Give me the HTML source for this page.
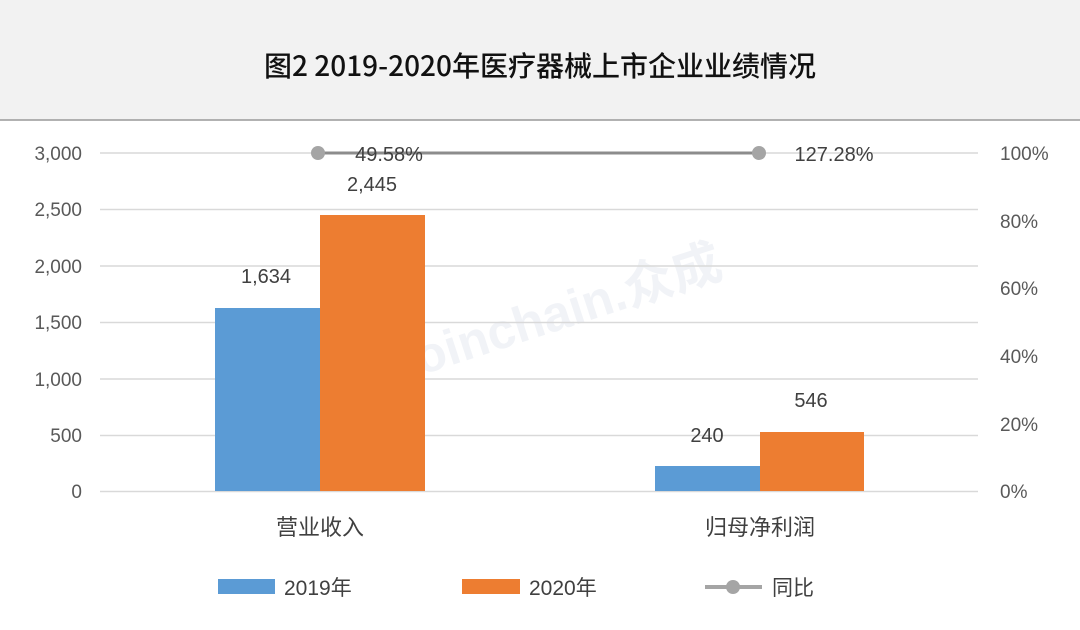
<!DOCTYPE html>
<html><head><meta charset="utf-8"><style>
body{margin:0;width:1080px;height:625px;background:#fff;overflow:hidden;font-family:"Liberation Sans","Noto Sans CJK SC",sans-serif}
</style></head><body>
<svg width="1080" height="625" xmlns="http://www.w3.org/2000/svg" font-family="Liberation Sans, Noto Sans CJK SC, sans-serif">
<rect x="0" y="0" width="1080" height="120" fill="#f2f2f2"/>
<line x1="0" y1="120" x2="1080" y2="120" stroke="#999" stroke-width="1.5"/>
<text x="540" y="76" text-anchor="middle" font-size="28" fill="#111" font-family="Noto Sans CJK SC, sans-serif" font-weight="500">图2 2019-2020年医疗器械上市企业业绩情况</text>
<text x="560" y="330" text-anchor="middle" font-size="50" font-weight="bold" fill="#f1f3f7" transform="rotate(-18 560 330)">Joinchain.众成</text>
<g stroke="#d9d9d9" stroke-width="1.5">
<line x1="100" y1="153" x2="978" y2="153"/><line x1="100" y1="209.5" x2="978" y2="209.5"/>
<line x1="100" y1="266" x2="978" y2="266"/><line x1="100" y1="322.5" x2="978" y2="322.5"/>
<line x1="100" y1="379" x2="978" y2="379"/><line x1="100" y1="435.5" x2="978" y2="435.5"/>
<line x1="100" y1="491.5" x2="978" y2="491.5"/></g>
<g font-size="19" fill="#595959" text-anchor="end">
<text x="82" y="160">3,000</text><text x="82" y="216">2,500</text><text x="82" y="273">2,000</text>
<text x="82" y="329">1,500</text><text x="82" y="386">1,000</text><text x="82" y="442">500</text><text x="82" y="498">0</text></g>
<g font-size="19" fill="#595959">
<text x="1000" y="160">100%</text><text x="1000" y="228">80%</text><text x="1000" y="295">60%</text>
<text x="1000" y="363">40%</text><text x="1000" y="431">20%</text><text x="1000" y="498">0%</text></g>
<rect x="215" y="308" width="105" height="183" fill="#5b9bd5"/>
<rect x="320" y="215" width="105" height="276" fill="#ed7d31"/>
<rect x="655" y="466" width="105" height="25" fill="#5b9bd5"/>
<rect x="760" y="432" width="104" height="59" fill="#ed7d31"/>
<line x1="318" y1="153" x2="759" y2="153" stroke="#8c8c8c" stroke-width="3"/>
<circle cx="318" cy="153" r="7" fill="#a5a5a5"/><circle cx="759" cy="153" r="7" fill="#a5a5a5"/>
<g font-size="20" fill="#404040" text-anchor="middle">
<text x="389" y="161">49.58%</text><text x="834" y="161">127.28%</text>
<text x="372" y="191">2,445</text><text x="266" y="283">1,634</text>
<text x="707" y="442">240</text><text x="811" y="407">546</text></g>
<g font-size="22" fill="#404040" text-anchor="middle" font-family="Noto Sans CJK SC, sans-serif">
<text x="320" y="535">营业收入</text><text x="760" y="535">归母净利润</text></g>
<rect x="218" y="579" width="57" height="15" fill="#5b9bd5"/>
<rect x="462" y="579" width="58" height="15" fill="#ed7d31"/>
<line x1="705" y1="587" x2="762" y2="587" stroke="#a5a5a5" stroke-width="4"/><circle cx="733" cy="587" r="7" fill="#a5a5a5"/>
<g font-size="21" fill="#404040" font-family="Liberation Sans, Noto Sans CJK SC, sans-serif">
<text x="284" y="595">2019年</text><text x="529" y="595">2020年</text><text x="772" y="595">同比</text></g>
</svg>
</body></html>
